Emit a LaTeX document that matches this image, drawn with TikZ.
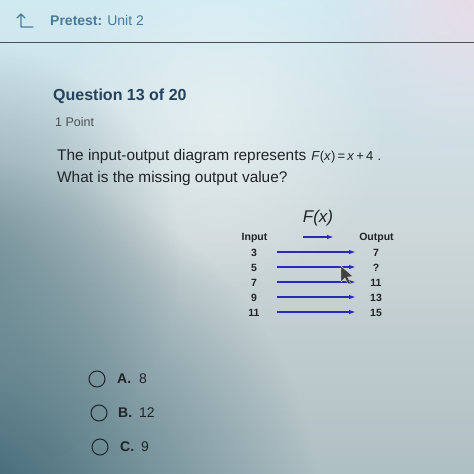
\documentclass[tikz,border=0pt]{standalone}
\usepackage{fontspec}
\setmainfont{Liberation Sans}
\usetikzlibrary{arrows.meta,fadings}
\definecolor{hdr}{HTML}{4A7A9A}
\definecolor{qcol}{HTML}{24425E}
\definecolor{txt}{HTML}{202427}
\definecolor{arr}{HTML}{2A2AB8}
\definecolor{bgtop}{HTML}{D0EAF2}
\definecolor{bgmid}{HTML}{CDD7D9}
\definecolor{bgbot}{HTML}{AEBFC3}
\definecolor{teald}{HTML}{36606E}
\definecolor{pinkish}{HTML}{E8DCE8}
\tikzfading[name=radfade, inner color=transparent!0, outer color=transparent!100]
\tikzset{
  lbl/.style={anchor=base west, inner sep=0pt, text=txt},
  tbl/.style={anchor=base, inner sep=0pt, text=txt, font=\fontsize{10.5}{12}\selectfont\bfseries},
  maparrow/.style={arr, line width=1.6pt, -{Latex[length=7pt,width=4.5pt]}},
  radio/.style={draw=txt, circle, line width=1pt, minimum size=16pt, inner sep=0pt},
  opt/.style={lbl, font=\fontsize{14}{16}\selectfont},
}
\begin{document}
\begin{tikzpicture}[x=1pt,y=-1pt]
\useasboundingbox (0,0) rectangle (474,474);
\begin{scope}
\clip (0,0) rectangle (474,474);
% background
\shade[top color=bgtop, bottom color=bgbot, middle color=bgmid] (0,0) rectangle (474,474);
\fill[pinkish, path fading=radfade] (474,0) circle (150);
\fill[white, opacity=0.45, path fading=radfade] (220,120) circle (170);
\fill[teald, path fading=radfade] (-40,520) circle (360);
\fill[teald!70!bgbot, opacity=0.7, path fading=radfade] (-40,260) circle (220);
\end{scope}
\draw[txt!80, line width=1pt] (0,42) -- (474,42);
% header
\draw[hdr, line width=1.3pt, line cap=round, line join=round] (21,27) -- (21,14) (17,18) -- (21,14) -- (25,18) (21,27) -- (33,27);
\node[lbl, text=hdr, font=\fontsize{14}{16}\selectfont] (hd) at (50,25) {\textbf{Pretest:}\hspace{5pt}Unit 2};
% question
\node[lbl, text=qcol, font=\fontsize{16}{18}\selectfont\bfseries] (q) at (53,100) {Question 13 of 20};
\node[lbl, text=txt!80, font=\fontsize{12.5}{14}\selectfont] (pt) at (55,126) {1 Point};
\node[lbl, font=\fontsize{15.4}{17}\selectfont] (l1) at (57,160) {The input-output diagram represents\hspace{5pt}\fontsize{13}{15}\selectfont\textit{F}(\textit{x})\,=\,\textit{x}\,+\,4\,\,.};
\node[lbl, font=\fontsize{15.4}{17}\selectfont] (l2) at (57,182) {What is the missing output value?};
% diagram
\node[anchor=base, inner sep=0pt, text=txt, font=\fontsize{17}{19}\selectfont\itshape] (fx) at (318,222) {F(x)};
\node[tbl] (in) at (254.5,240) {Input};
\node[tbl] (out) at (376.5,240) {Output};
\coordinate (fa) at (303,237);
\coordinate (fb) at (334,237);
\draw[maparrow] (fa) -- (fb);
\node[tbl] (i1) at (254,256) {3};
\node[tbl] (i2) at (254,271) {5};
\node[tbl] (i3) at (254,286) {7};
\node[tbl] (i4) at (254,301) {9};
\node[tbl] (i5) at (254,316) {11};
\node[tbl] (o1) at (376,256) {7};
\node[tbl] (o2) at (376,271) {?};
\node[tbl] (o3) at (376,286) {11};
\node[tbl] (o4) at (376,301) {13};
\node[tbl] (o5) at (376,316) {15};
\foreach \k/\y in {1/252,2/267,3/282,4/297,5/312}{
  \coordinate (s\k) at (277,\y);
  \coordinate (e\k) at (356,\y);
  \draw[maparrow] (s\k) -- (e\k);
}
% cursor
\fill[black!75, draw=white!70!gray, line width=0.4pt] (341,266) -- (341,282) -- (345,278) -- (348,284) -- (350.5,283) -- (347.5,277) -- (353,276.5) -- cycle;
% options
\node[radio] (ra) at (97,379) {};
\node[radio] (rb) at (99,413) {};
\node[radio] (rc) at (100,447) {};
\node[opt] (ta) at (117,383.5) {\textbf{A.}\hspace{8pt}8};
\node[opt] (tb) at (118,417.5) {\textbf{B.}\hspace{7pt}12};
\node[opt] (tc) at (120,451.5) {\textbf{C.}\hspace{7pt}9};
\end{tikzpicture}
\end{document}
